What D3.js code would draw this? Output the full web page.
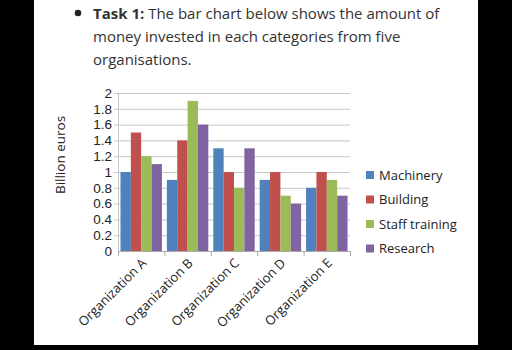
<!DOCTYPE html>
<html><head><meta charset="utf-8">
<script src="https://cdn.jsdelivr.net/npm/d3@7"></script>
<style>body{margin:0;background:#000;}svg{display:block;}</style>
</head><body>
<svg id="c" width="512" height="350"></svg>
<script>
const categories = ["Organization A","Organization B","Organization C","Organization D","Organization E"];
const seriesNames = ["Machinery","Building","Staff training","Research"];
const machinery = [1.0, 0.9, 1.3, 0.9, 0.8];
const building = [1.5, 1.4, 1.0, 1.0, 1.0];
const staffTraining = [1.2, 1.9, 0.8, 0.7, 0.9];
const research = [1.1, 1.6, 1.3, 0.6, 0.7];
const yTicks = [0,0.2,0.4,0.6,0.8,1,1.2,1.4,1.6,1.8,2];
const colors = ["#4F81BD","#C0504D","#9BBB59","#8064A2"];
const seriesValues = [machinery, building, staffTraining, research];

(function(){
const svg = d3.select("#c");
svg.append("rect").attr("x",34).attr("y",0).attr("width",444).attr("height",345).attr("fill","#fff");

// Title
const tf = "'Open Sans', sans-serif";
svg.append("circle").attr("cx",78).attr("cy",13).attr("r",3.3).attr("fill","#222");
const t1 = svg.append("text").attr("x",93).attr("y",18.5).attr("font-family",tf).attr("font-size",15).attr("fill","#333");
t1.append("tspan").attr("font-weight","bold").text("Task 1:");
t1.append("tspan").text(" The bar chart below shows the amount of");
svg.append("text").attr("x",93).attr("y",42).attr("font-family",tf).attr("font-size",15).attr("fill","#333").text("money invested in each categories from five");
svg.append("text").attr("x",93).attr("y",65).attr("font-family",tf).attr("font-size",15).attr("fill","#333").text("organisations.");

const pL = 118, pR = 350, pT = 93, pB = 251;
const x = d3.scaleBand().domain(categories).range([pL,pR]).paddingInner(0).paddingOuter(0);
const xs = d3.scaleBand().domain(d3.range(4)).range([0,x.bandwidth()]).paddingOuter(0.24).paddingInner(0);
const y = d3.scaleLinear().domain([0,2]).range([pB,pT]);

// gridlines
svg.append("g").selectAll("line").data(yTicks.slice(1)).join("line")
  .attr("x1",pL-4).attr("x2",pR).attr("y1",d=>y(d)+0.5).attr("y2",d=>y(d)+0.5)
  .attr("stroke","#c8c8c8").attr("stroke-width",1);
svg.append("line").attr("x1",pL+0.5).attr("x2",pL+0.5).attr("y1",pT).attr("y2",pB)
  .attr("stroke","#c8c8c8");

// bars
const g = svg.append("g");
categories.forEach((c,i)=>{
  seriesValues.forEach((s,j)=>{
    g.append("rect").attr("x",x(c)+xs(j)).attr("width",xs.bandwidth())
      .attr("y",y(s[i])).attr("height",y(0)-y(s[i])).attr("fill",colors[j]);
  });
});

// y axis labels
const ya = svg.append("g").attr("transform",`translate(${pL},0)`)
  .call(d3.axisLeft(y).tickValues(yTicks).tickSize(0).tickPadding(6).tickFormat(d=>String(d)));
ya.select(".domain").remove();
ya.selectAll("text").attr("font-family","'Liberation Sans', Arial, sans-serif").attr("font-size",13.5).attr("fill","#222");

// x axis
const xa = svg.append("g").attr("transform",`translate(0,${pB})`)
  .call(d3.axisBottom(x).tickSize(0).tickFormat(""));
xa.select(".domain").attr("stroke","#aaa").attr("d",`M${pL},0.5H${pR}`);
svg.append("g").selectAll("line").data(d3.range(categories.length+1)).join("line")
  .attr("x1",d=>pL+d*x.step()+0.5).attr("x2",d=>pL+d*x.step()+0.5)
  .attr("y1",pB).attr("y2",pB+5).attr("stroke","#aaa");
svg.append("g").selectAll("text").data(categories).join("text")
  .attr("transform",d=>`translate(${x(d)+x.bandwidth()/2+6},${pB+13}) rotate(-45)`)
  .attr("text-anchor","end").attr("font-family",tf).attr("font-size",13).attr("fill","#222").text(d=>d);

// y title
svg.append("text").attr("transform","translate(65,155) rotate(-90)").attr("text-anchor","middle")
  .attr("font-family",tf).attr("font-size",13.5).attr("fill","#222").text("Billion euros");

// legend
const lg = svg.append("g");
seriesNames.forEach((n,j)=>{
  const cy = 175 + j*24.5;
  lg.append("rect").attr("x",366).attr("y",cy-4).attr("width",8).attr("height",8).attr("fill",colors[j]);
  lg.append("text").attr("x",379).attr("y",cy+4.5).attr("font-family",tf).attr("font-size",13).attr("fill","#222").text(n);
});
})();
</script>
</body></html>
